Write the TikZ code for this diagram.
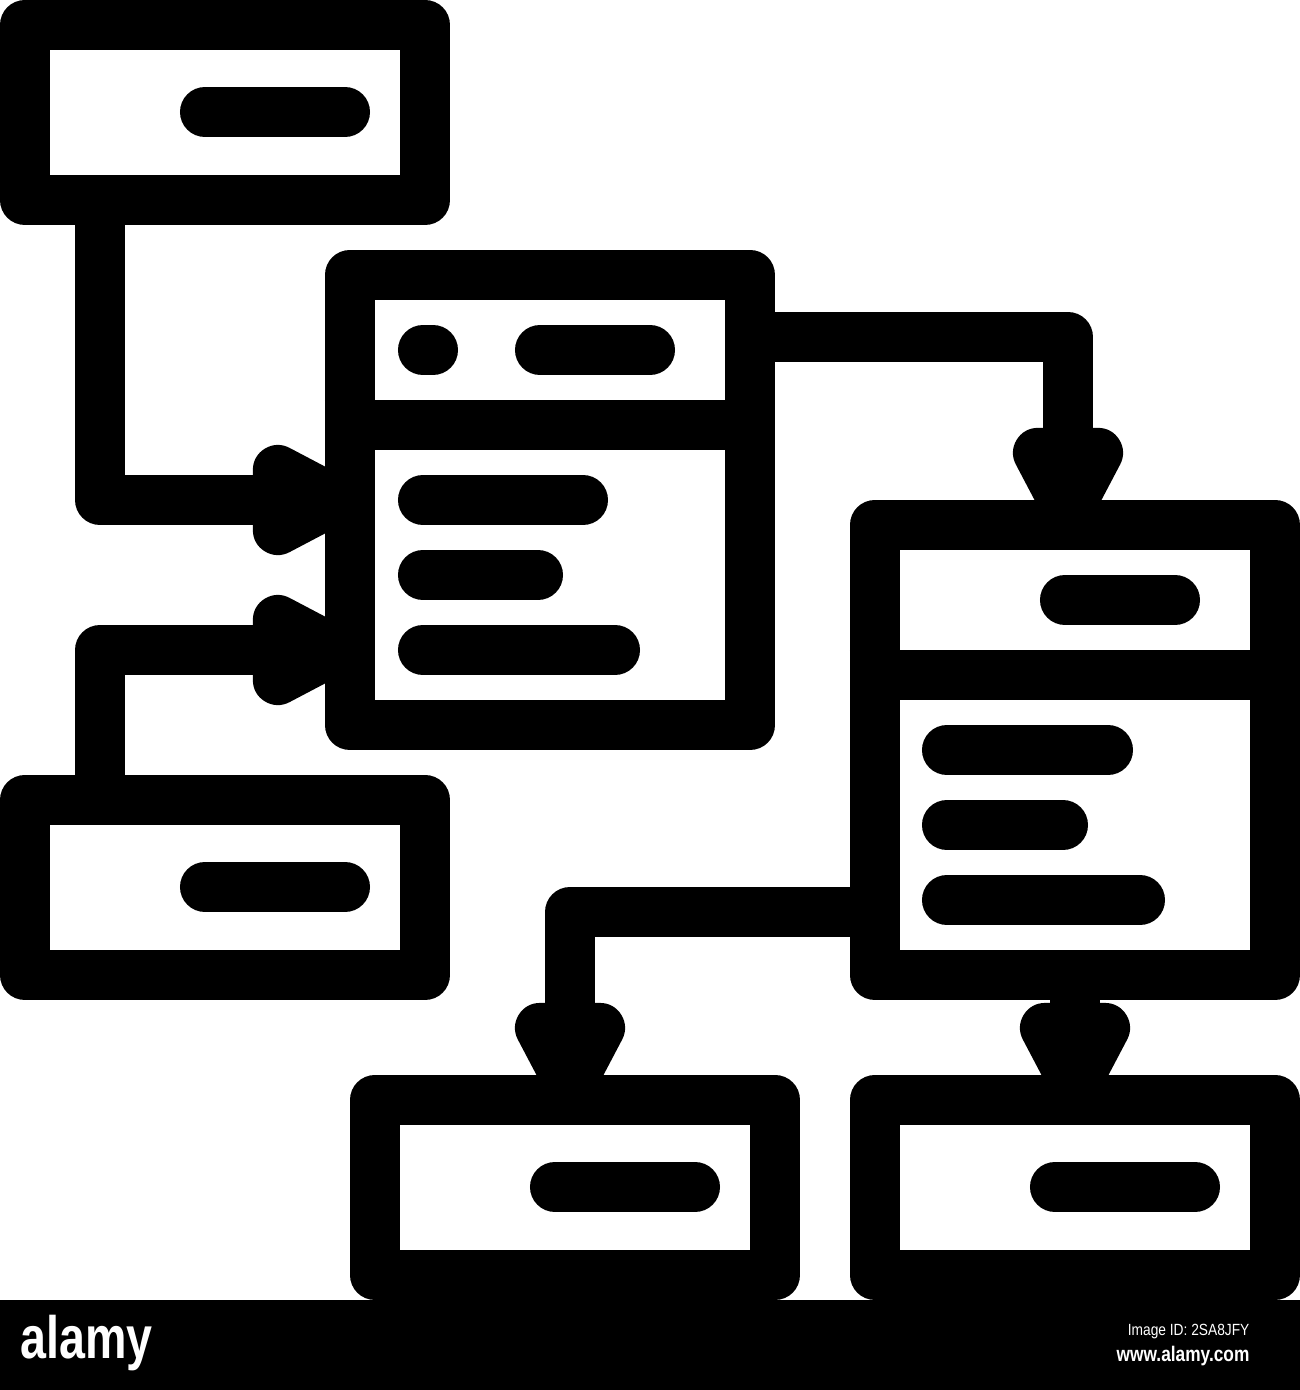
\documentclass[tikz,border=0pt]{standalone}
\usepackage{fontspec}
\setsansfont{Liberation Sans}
\tikzset{
  card/.style={draw, line width=5mm, line join=round, inner sep=0pt,
    minimum width=4cm, minimum height=1.75cm},
  tallcard/.style={card, minimum height=4.5cm},
  bar/.style={line width=5mm, line cap=round},
  divider/.style={line width=5mm},
  link/.style={line width=5mm, line join=round},
  head/.style={fill, draw, line width=5mm, line join=round},
}
% arrow head with its tip 10 units inside the box edge
\newcommand\headat[2]{%
  \begin{scope}[shift={#1}, rotate=#2]
    \filldraw[head] (-30,-47) -- (0,10) -- (30,-47) -- cycle;
  \end{scope}}
\begin{document}
\begin{tikzpicture}[x=0.01cm, y=-0.01cm]
    \useasboundingbox (0,0) rectangle (1300,1390);
    % boxes
    \node[card] (top) at (225,112.5) {};
    \node[tallcard] (main) at (550,500) {};
    \node[tallcard] (right) at (1075,750) {};
    \node[card] (left) at (225,887.5) {};
    \node[card] (outa) at (575,1187.5) {};
    \node[card] (outb) at (1075,1187.5) {};
    % headers
    \draw[divider] (main.west |- 0,425) -- (main.east |- 0,425);
    \draw[divider] (right.west |- 0,675) -- (right.east |- 0,675);
    % bars
    \draw[bar] (205,112) -- (345,112);
    \draw[bar] (423,350) -- (433,350);
    \draw[bar] (540,350) -- (650,350);
    \draw[bar] (423,500) -- (583,500);
    \draw[bar] (423,575) -- (538,575);
    \draw[bar] (423,650) -- (615,650);
    \draw[bar] (1065,600) -- (1175,600);
    \draw[bar] (947,750) -- (1108,750);
    \draw[bar] (947,825) -- (1063,825);
    \draw[bar] (947,900) -- (1140,900);
    \draw[bar] (205,887) -- (345,887);
    \draw[bar] (555,1187) -- (695,1187);
    \draw[bar] (1055,1187) -- (1195,1187);
    % links
    \draw[link] (top.south -| 100,0) |- (main.west |- 0,500) coordinate (ta);
    \draw[link] (left.north -| 100,0) |- (main.west |- 0,650) coordinate (tb);
    \draw[link] (main.east |- 0,337) -| (right.north -| 1068,0) coordinate (tc);
    \draw[link] (right.west |- 0,912) -| (outa.north -| 570,0) coordinate (td);
    \draw[link] (right.south) -- (outb.north) coordinate (te);
    \headat{(ta)}{90}
    \headat{(tb)}{90}
    \headat{(tc)}{0}
    \headat{(td)}{0}
    \headat{(te)}{0}
    % footer
    \fill (0,1300) rectangle (1300,1390);
    \node[white, font=\sffamily\bfseries\fontsize{17}{17}\selectfont, xscale=0.78, anchor=west, inner sep=0pt] (logo) at (20,1343) {alamy};
    \node[white, font=\sffamily\fontsize{4.6}{5}\selectfont, xscale=0.85, anchor=east, inner sep=0pt] (imgid) at (1250,1332) {Image ID: 2SA8JFY};
    \node[white, font=\sffamily\bfseries\fontsize{6}{6}\selectfont, xscale=0.82, anchor=east, inner sep=0pt] (site) at (1250,1356) {www.alamy.com};
\end{tikzpicture}
\end{document}
